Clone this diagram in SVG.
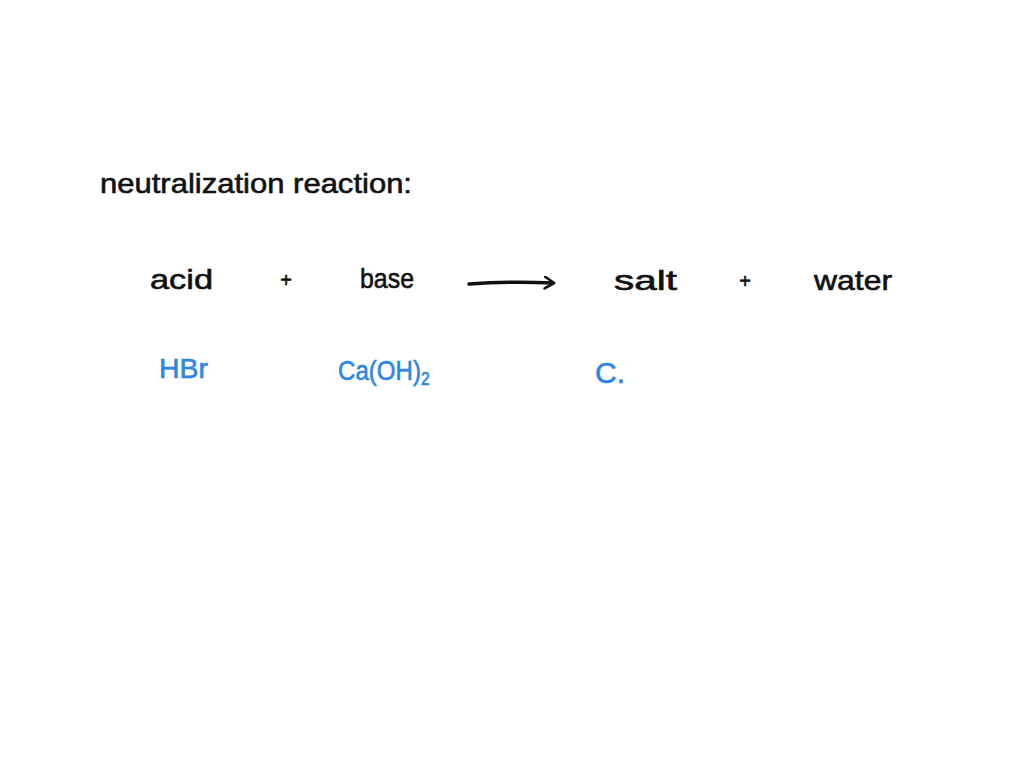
<svg xmlns="http://www.w3.org/2000/svg" width="1024" height="768" viewBox="0 0 1024 768">
<style>
.t{font-family:"Liberation Sans",Arial,sans-serif;fill:#111;stroke:#111;stroke-width:0.6}
.b{font-family:"Liberation Sans",Arial,sans-serif;fill:#2f86e0;stroke:#2f86e0;stroke-width:0.6}
</style>
<defs>
<marker id="ah" viewBox="0 0 12 12" refX="9" refY="6" markerWidth="4" markerHeight="4" orient="auto" markerUnits="strokeWidth">
<path d="M2,1 L10,6 L2,11" fill="none" stroke="#111" stroke-width="2.2" stroke-linecap="round" stroke-linejoin="round"/>
</marker>
</defs>
<rect width="1024" height="768" fill="#ffffff"/>
<g id="title">
<text class="t" x="100" y="193" font-size="28" textLength="312" lengthAdjust="spacingAndGlyphs">neutralization reaction:</text>
</g>
<g id="acid"><text class="t" x="150" y="289" font-size="28" textLength="63" lengthAdjust="spacingAndGlyphs">acid</text></g>
<g id="plus1"><text class="t" x="286" y="287" font-size="20" text-anchor="middle">+</text></g>
<g id="base"><text class="t" x="360" y="288" font-size="28" textLength="54" lengthAdjust="spacingAndGlyphs">base</text></g>
<g id="salt"><text class="t" x="614" y="290" font-size="28" textLength="63" lengthAdjust="spacingAndGlyphs">salt</text></g>
<g id="plus2"><text class="t" x="745" y="288" font-size="20" text-anchor="middle">+</text></g>
<g id="water"><text class="t" x="814" y="290" font-size="28" textLength="78" lengthAdjust="spacingAndGlyphs">water</text></g>
<g id="hbr"><text class="b" x="159" y="378" font-size="28" textLength="49" lengthAdjust="spacingAndGlyphs">HBr</text></g>
<g id="caoh2"><text class="b" transform="translate(338,380) scale(0.86,1)" x="0" y="0" font-size="28">Ca(OH)<tspan font-size="18" dy="5">2</tspan></text></g>
<g id="c"><text class="b" x="595" y="383" font-size="30">C.</text></g>
<g id="connectors">
<path d="M469,284 Q510,281 553,283" fill="none" stroke="#111" stroke-width="3.5" stroke-linecap="round" marker-end="url(#ah)"/>
</g>
</svg>
